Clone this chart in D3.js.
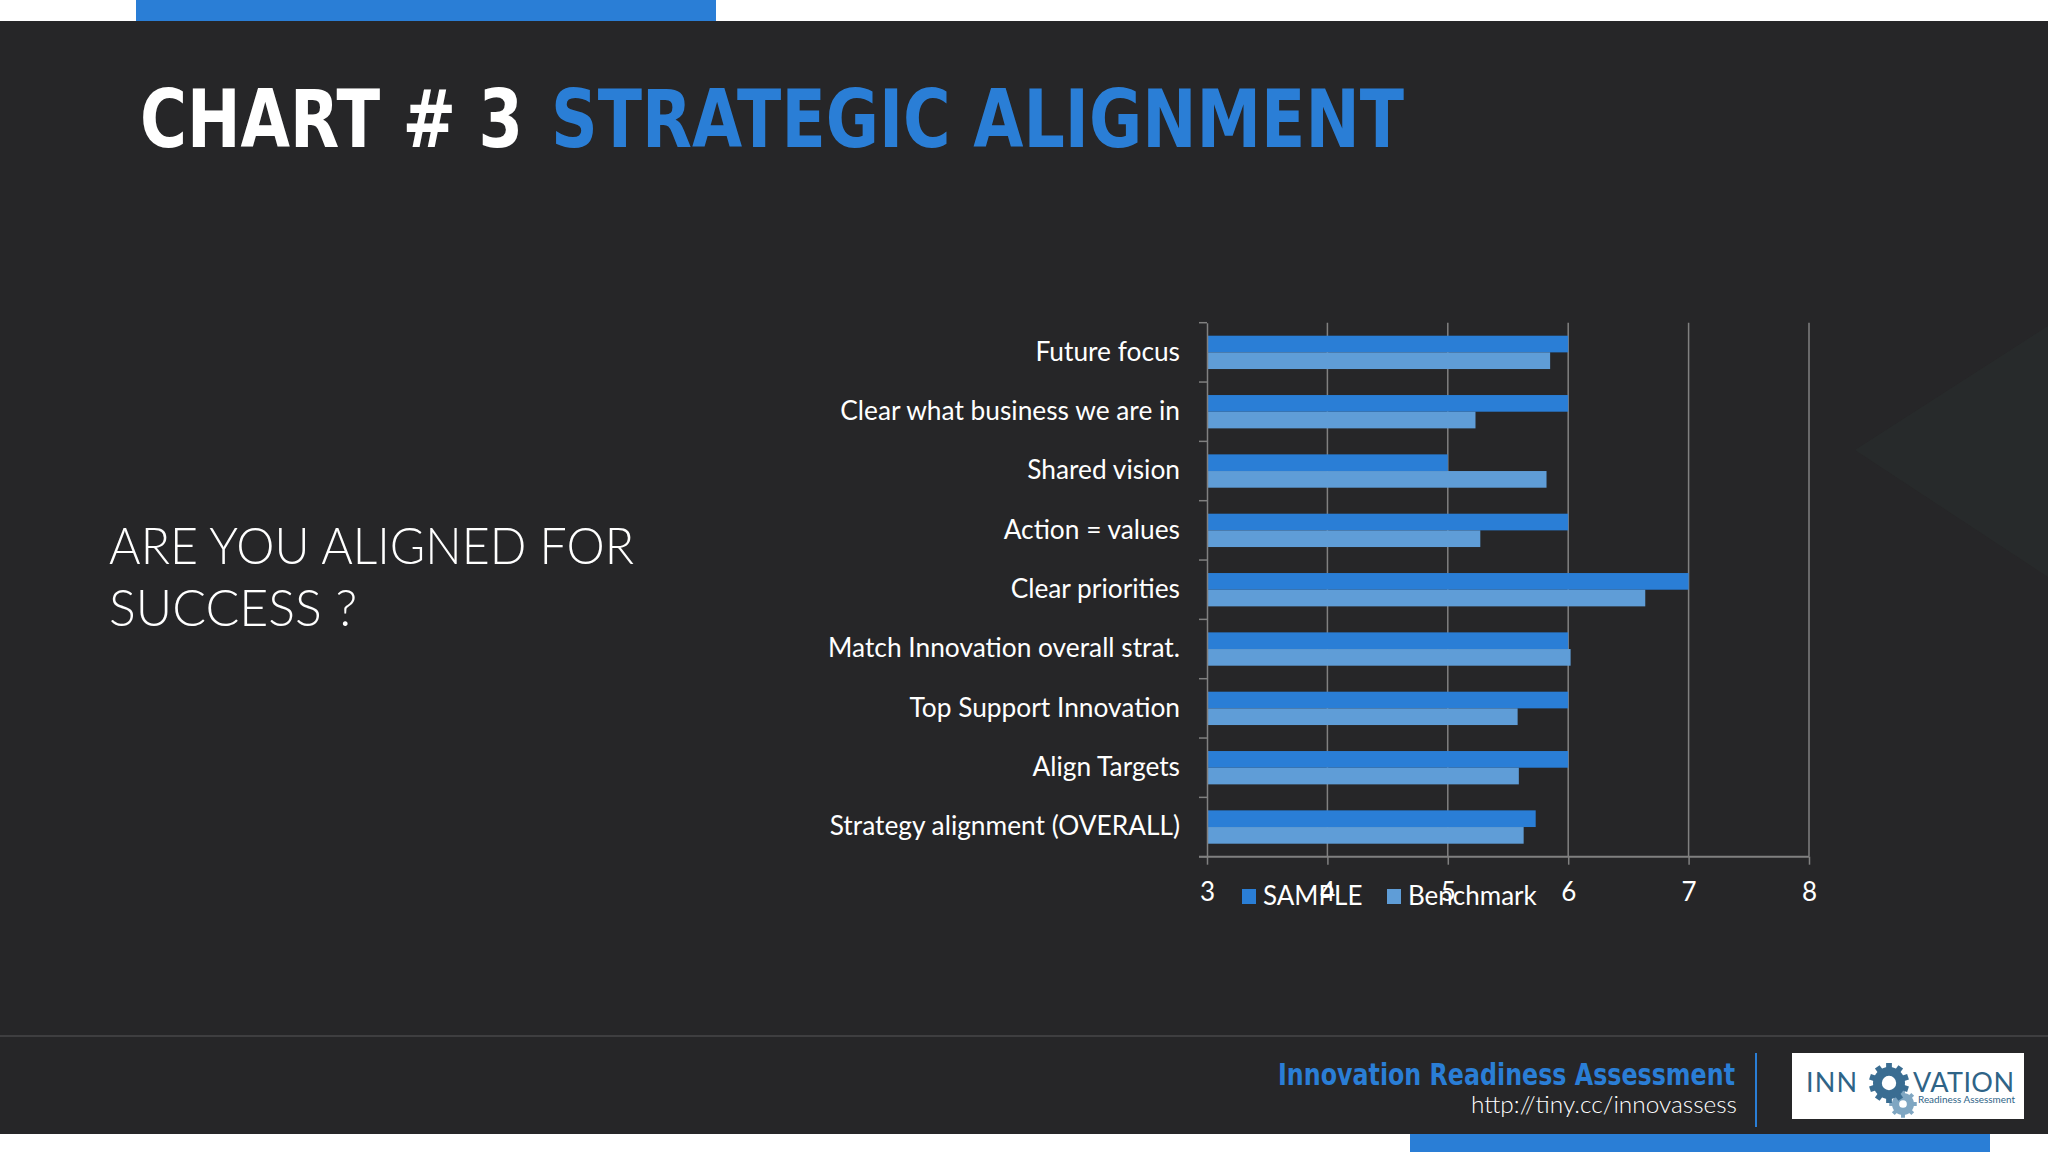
<!DOCTYPE html>
<html><head><meta charset="utf-8">
<script src="https://cdn.jsdelivr.net/npm/d3@7"></script>
<style>html,body{margin:0;padding:0;background:#262628;overflow:hidden}svg{display:block}</style>
</head><body>
<script>
const categories = ["Future focus","Clear what business we are in","Shared vision","Action = values","Clear priorities","Match Innovation overall strat.","Top Support Innovation","Align Targets","Strategy alignment (OVERALL)"];
const sampleValues = [6.0, 6.0, 5.0, 6.0, 7.0, 6.0, 6.0, 6.0, 5.73];
const benchmarkValues = [5.85, 5.23, 5.82, 5.27, 6.64, 6.02, 5.58, 5.59, 5.63];
const seriesNames = ["SAMPLE", "Benchmark"];
const xTickValues = [3, 4, 5, 6, 7, 8];
const titleWhite = "CHART # 3";
const titleBlue = "STRATEGIC ALIGNMENT";
const sideLines = ["ARE YOU ALIGNED FOR", "SUCCESS ?"];
const footerTitle = "Innovation Readiness Assessment";
const footerUrl = "http://tiny.cc/innovassess";

const W = 2048, H = 1152;
const BLUE = "#2a7ed6", LIGHT = "#5f9dd7", BG = "#262628", GRID = "#808080";
const svg = d3.select("body").append("svg").attr("width", W).attr("height", H);

svg.append("rect").attr("width", W).attr("height", H).attr("fill", BG);
// faint decorative shape
svg.append("polygon").attr("points", "1855,450 2048,326 2048,577").attr("fill", "#2b3331").attr("opacity", 0.35);
// top strip
svg.append("rect").attr("x", 0).attr("y", 0).attr("width", W).attr("height", 21).attr("fill", "#ffffff");
svg.append("rect").attr("x", 136).attr("y", 0).attr("width", 580).attr("height", 21).attr("fill", BLUE);

// title
svg.append("text").attr("x", 140).attr("y", 147).attr("fill", "#ffffff")
  .attr("font-family", "DejaVu Sans").attr("font-weight", "bold").attr("font-size", 81)
  .attr("textLength", 383).attr("lengthAdjust", "spacingAndGlyphs").text(titleWhite);
svg.append("text").attr("x", 551).attr("y", 147).attr("fill", BLUE)
  .attr("font-family", "DejaVu Sans").attr("font-weight", "bold").attr("font-size", 81)
  .attr("textLength", 853).attr("lengthAdjust", "spacingAndGlyphs").text(titleBlue);

// side text
const sideLens = [525, 248];
sideLines.forEach((t, i) => {
  svg.append("text").attr("x", 109).attr("y", 564 + i * 62).attr("fill", "#ffffff")
    .attr("font-family", "Lato").attr("font-weight", 300).attr("font-size", 51)
    .attr("textLength", sideLens[i]).attr("lengthAdjust", "spacingAndGlyphs").text(t);
});

// chart
const x = d3.scaleLinear().domain([3, 8]).range([1207, 1809]);
const y = d3.scaleBand().domain(categories).range([322.7, 856.7]).padding(0);
const ySub = d3.scaleBand().domain(seriesNames).range([0, y.bandwidth()]).paddingInner(0).paddingOuter(0.78);
const g = svg.append("g");

// gridlines
g.selectAll("line.grid").data(xTickValues.slice(1)).join("line")
  .attr("x1", d => x(d)).attr("x2", d => x(d))
  .attr("y1", y.range()[0]).attr("y2", y.range()[1])
  .attr("stroke", GRID).attr("stroke-width", 1.5);

// bars
const rows = categories.map((c, i) => ({c, vals: [sampleValues[i], benchmarkValues[i]]}));
const colors = {"SAMPLE": BLUE, "Benchmark": LIGHT};
rows.forEach(r => {
  seriesNames.forEach((s, j) => {
    g.append("rect").attr("x", x(3)).attr("y", y(r.c) + ySub(s))
      .attr("width", x(r.vals[j]) - x(3)).attr("height", ySub.bandwidth())
      .attr("fill", colors[s]);
  });
});

// category axis
const yAxis = d3.axisLeft(y).tickSize(0).tickPadding(27);
const ya = g.append("g").attr("transform", `translate(${x(3)},0)`).call(yAxis);
ya.select(".domain").attr("stroke", GRID).attr("stroke-width", 1.5);
ya.selectAll("text").attr("fill", "#ffffff").attr("font-family", "Lato").attr("font-size", 26.3);
// category boundary ticks
const bounds = categories.map(c => y(c)).concat([y.range()[1]]);
g.selectAll("line.ctick").data(bounds).join("line")
  .attr("x1", x(3) - 8).attr("x2", x(3)).attr("y1", d => d).attr("y2", d => d)
  .attr("stroke", GRID).attr("stroke-width", 1.5);

// value axis
const xAxis = d3.axisBottom(x).tickValues(xTickValues).tickSize(8).tickPadding(18).tickFormat(d3.format("d"));
const xa = g.append("g").attr("transform", `translate(0,${y.range()[1]})`).call(xAxis);
xa.select(".domain").remove();
xa.append("line").attr("x1", x(3) - 8).attr("x2", x(8)).attr("y1", 0).attr("y2", 0).attr("stroke", GRID).attr("stroke-width", 2);
xa.selectAll(".tick line").attr("stroke", GRID).attr("stroke-width", 1.5);
xa.selectAll("text").attr("fill", "#ffffff").attr("font-family", "Lato").attr("font-size", 26);

// legend
const legendX = [1242, 1387];
seriesNames.forEach((s, i) => {
  svg.append("rect").attr("x", legendX[i]).attr("y", 889).attr("width", 14).attr("height", 15).attr("fill", colors[s]);
  svg.append("text").attr("x", legendX[i] + 21).attr("y", 905).attr("fill", "#ffffff")
    .attr("font-family", "Lato").attr("font-size", 26).text(s);
});

// footer
svg.append("line").attr("x1", 0).attr("x2", W).attr("y1", 1036).attr("y2", 1036).attr("stroke", "#3e3e40").attr("stroke-width", 2);
svg.append("text").attr("x", 1735).attr("y", 1085).attr("text-anchor", "end").attr("fill", BLUE)
  .attr("font-family", "DejaVu Sans").attr("font-weight", "bold").attr("font-size", 30)
  .attr("textLength", 457).attr("lengthAdjust", "spacingAndGlyphs").text(footerTitle);
svg.append("text").attr("x", 1737).attr("y", 1113).attr("text-anchor", "end").attr("fill", "#ffffff")
  .attr("font-family", "Lato").attr("font-weight", 300).attr("font-size", 23)
  .attr("textLength", 266).attr("lengthAdjust", "spacingAndGlyphs").text(footerUrl);
svg.append("line").attr("x1", 1756).attr("x2", 1756).attr("y1", 1053).attr("y2", 1127).attr("stroke", BLUE).attr("stroke-width", 2);

// logo
const logo = svg.append("g");
logo.append("rect").attr("x", 1792).attr("y", 1053).attr("width", 232).attr("height", 66).attr("fill", "#ffffff");
function gear(cx, cy, r, teeth, color, hole) {
  const gg = logo.append("g").attr("transform", `translate(${cx},${cy})`);
  for (let k = 0; k < teeth; k++) {
    gg.append("rect").attr("x", -r * 0.18).attr("y", -r * 1.25).attr("width", r * 0.36).attr("height", r * 0.5)
      .attr("fill", color).attr("transform", `rotate(${k * 360 / teeth})`);
  }
  gg.append("circle").attr("r", r).attr("fill", color);
  gg.append("circle").attr("r", r * hole).attr("fill", "#ffffff");
}
gear(1903, 1104, 11, 8, "#7fa6c2", 0.35);
gear(1889, 1083, 16, 10, "#3a6d92", 0.45);
logo.append("text").attr("x", 1806).attr("y", 1092).attr("fill", "#2f6487")
  .attr("font-family", "Lato").attr("font-size", 27)
  .attr("textLength", 51).attr("lengthAdjust", "spacing").text("INN");
logo.append("text").attr("x", 1913).attr("y", 1092).attr("fill", "#2f6487")
  .attr("font-family", "Lato").attr("font-size", 27)
  .attr("textLength", 101).attr("lengthAdjust", "spacing").text("VATION");
logo.append("text").attr("x", 1918).attr("y", 1103).attr("fill", "#2f6487")
  .attr("font-family", "Lato").attr("font-size", 9.5)
  .attr("textLength", 97).attr("lengthAdjust", "spacingAndGlyphs").text("Readiness Assessment");

// bottom strip
svg.append("rect").attr("x", 0).attr("y", 1134).attr("width", W).attr("height", 18).attr("fill", "#ffffff");
svg.append("rect").attr("x", 1410).attr("y", 1134).attr("width", 580).attr("height", 18).attr("fill", BLUE);
</script>
</body></html>
